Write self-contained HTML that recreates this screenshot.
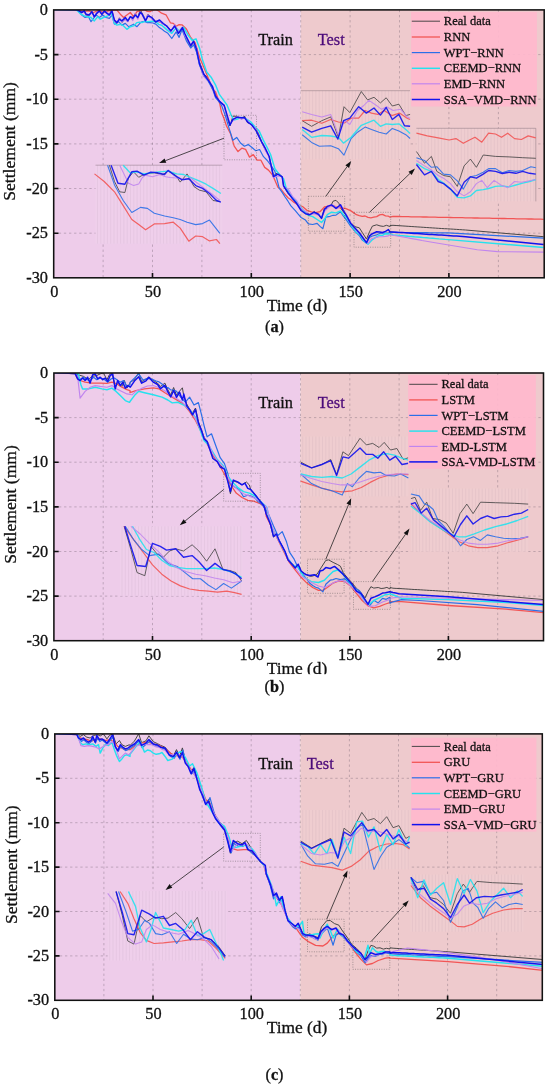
<!DOCTYPE html>
<html><head><meta charset="utf-8"><title>Settlement prediction</title>
<style>
html,body{margin:0;padding:0;background:#fff;overflow:hidden;}
svg{display:block;font-family:"Liberation Serif","Times New Roman",serif;}
text{stroke:#111;stroke-width:0.3px;}
</style></head><body>
<svg width="550" height="1087" viewBox="0 0 550 1087">
<rect width="550" height="1087" fill="#fff"/>
<g><rect x="53.7" y="9.9" width="247.0" height="267.9" fill="#eeccea"/>
<rect x="300.71580000000006" y="9.9" width="243.5" height="267.9" fill="#eecacd"/>
<path d="M103.1 9.9 V277.8 M152.5 9.9 V277.8 M201.9 9.9 V277.8 M251.3 9.9 V277.8 M300.7 9.9 V277.8 M350.1 9.9 V277.8 M399.5 9.9 V277.8 M448.9 9.9 V277.8 M498.4 9.9 V277.8 M53.7 233.2 H544.2 M53.7 188.5 H544.2 M53.7 143.9 H544.2 M53.7 99.2 H544.2 M53.7 54.6 H544.2" stroke="#6a5a6a" stroke-opacity="0.45" stroke-width="0.8" stroke-dasharray="2.3 2.8" fill="none"/>
<rect x="95.5" y="165.2" width="126.8" height="78.4" fill="#efcfeb"/>
<path d="M97.5 165.2 V243.6 M100.8 165.2 V243.6 M104.1 165.2 V243.6 M107.4 165.2 V243.6 M110.7 165.2 V243.6 M114.0 165.2 V243.6 M117.3 165.2 V243.6 M120.6 165.2 V243.6 M123.9 165.2 V243.6 M127.2 165.2 V243.6 M130.5 165.2 V243.6 M133.8 165.2 V243.6 M137.1 165.2 V243.6 M140.4 165.2 V243.6 M143.7 165.2 V243.6 M147.0 165.2 V243.6 M150.3 165.2 V243.6 M153.6 165.2 V243.6 M156.9 165.2 V243.6 M160.2 165.2 V243.6 M163.5 165.2 V243.6 M166.8 165.2 V243.6 M170.1 165.2 V243.6 M173.4 165.2 V243.6 M176.7 165.2 V243.6 M180.0 165.2 V243.6 M183.3 165.2 V243.6 M186.6 165.2 V243.6 M189.9 165.2 V243.6 M193.2 165.2 V243.6 M196.5 165.2 V243.6 M199.8 165.2 V243.6 M203.1 165.2 V243.6 M206.4 165.2 V243.6 M209.7 165.2 V243.6 M213.0 165.2 V243.6 M216.3 165.2 V243.6 M219.6 165.2 V243.6" stroke="#8f7890" stroke-opacity="0.13" stroke-width="0.7" fill="none"/>
<path d="M95.5 165.2 H222.3" stroke="#7a6a74" stroke-opacity="0.8" stroke-width="0.55" fill="none"/>
<rect x="300.7" y="90.7" width="109.3" height="68.7" fill="#efcdd0"/>
<path d="M302.7 90.7 V159.4 M306.0 90.7 V159.4 M309.3 90.7 V159.4 M312.6 90.7 V159.4 M315.9 90.7 V159.4 M319.2 90.7 V159.4 M322.5 90.7 V159.4 M325.8 90.7 V159.4 M329.1 90.7 V159.4 M332.4 90.7 V159.4 M335.7 90.7 V159.4 M339.0 90.7 V159.4 M342.3 90.7 V159.4 M345.6 90.7 V159.4 M348.9 90.7 V159.4 M352.2 90.7 V159.4 M355.5 90.7 V159.4 M358.8 90.7 V159.4 M362.1 90.7 V159.4 M365.4 90.7 V159.4 M368.7 90.7 V159.4 M372.0 90.7 V159.4 M375.3 90.7 V159.4 M378.6 90.7 V159.4 M381.9 90.7 V159.4 M385.2 90.7 V159.4 M388.5 90.7 V159.4 M391.8 90.7 V159.4 M395.1 90.7 V159.4 M398.4 90.7 V159.4 M401.7 90.7 V159.4 M405.0 90.7 V159.4 M408.3 90.7 V159.4" stroke="#8f7890" stroke-opacity="0.13" stroke-width="0.7" fill="none"/>
<path d="M300.7 90.7 H410.0" stroke="#7a6a74" stroke-opacity="0.8" stroke-width="0.55" fill="none"/>
<rect x="416.4" y="128.3" width="119.4" height="73.1" fill="#efcdd0"/>
<path d="M418.4 128.3 V201.4 M421.7 128.3 V201.4 M425.0 128.3 V201.4 M428.3 128.3 V201.4 M431.6 128.3 V201.4 M434.9 128.3 V201.4 M438.2 128.3 V201.4 M441.5 128.3 V201.4 M444.8 128.3 V201.4 M448.1 128.3 V201.4 M451.4 128.3 V201.4 M454.7 128.3 V201.4 M458.0 128.3 V201.4 M461.3 128.3 V201.4 M464.6 128.3 V201.4 M467.9 128.3 V201.4 M471.2 128.3 V201.4 M474.5 128.3 V201.4 M477.8 128.3 V201.4 M481.1 128.3 V201.4 M484.4 128.3 V201.4 M487.7 128.3 V201.4 M491.0 128.3 V201.4 M494.3 128.3 V201.4 M497.6 128.3 V201.4 M500.9 128.3 V201.4 M504.2 128.3 V201.4 M507.5 128.3 V201.4 M510.8 128.3 V201.4 M514.1 128.3 V201.4 M517.4 128.3 V201.4 M520.7 128.3 V201.4 M524.0 128.3 V201.4 M527.3 128.3 V201.4 M530.6 128.3 V201.4 M533.9 128.3 V201.4" stroke="#8f7890" stroke-opacity="0.13" stroke-width="0.7" fill="none"/>
<path d="M416.4 128.3 H535.8" stroke="#7a6a74" stroke-opacity="0.8" stroke-width="0.55" fill="none"/>
<path d="M535.8 128.3 V201.4" stroke="#7a6a74" stroke-opacity="0.8" stroke-width="0.55" fill="none"/>
<clipPath id="clipa"><rect x="53.7" y="9.9" width="490.5" height="267.9"/></clipPath>
<g clip-path="url(#clipa)" fill="none" stroke-linejoin="round">
<path d="M53.7 9.5 L75.1 9.7 L77.6 10.0 L81.8 12.4 L84.3 11.0 L86.0 15.6 L89.3 14.9 L91.8 11.7 L94.3 17.0 L96.8 12.4 L99.3 10.9 L101.9 14.6 L104.4 11.8 L106.9 12.1 L109.4 14.4 L111.9 9.5 L114.4 21.0 L116.9 23.2 L119.4 17.8 L121.9 22.4 L125.3 19.0 L127.8 21.4 L130.3 17.1 L132.8 17.3 L135.3 13.5 L137.8 17.6 L140.3 9.6 L142.0 13.1 L145.5 19.9 L148.0 14.0 L151.8 18.0 L155.6 21.2 L159.5 21.9 L163.3 24.2 L167.1 26.3 L170.9 30.4 L174.7 26.3 L178.5 33.6 L182.4 28.0 L184.9 35.6 L186.4 38.2 L190.7 47.3 L193.6 41.5 L196.5 47.5 L199.5 61.8 L203.8 73.9 L208.2 78.0 L212.5 88.1 L215.5 94.3 L219.8 102.9 L224.2 105.1 L227.1 117.7 L230.0 126.0 L232.9 116.2 L237.3 116.3 L241.6 119.1 L244.5 116.0 L247.5 122.7 L251.8 124.4 L256.2 128.8 L259.0 134.8 L261.8 142.7 L265.5 150.3 L269.1 156.6 L273.5 175.7 L277.8 172.6 L282.2 176.7 L283.6 186.1 L288.0 193.5 L292.4 198.0 L296.7 202.1 L301.1 209.1 L305.5 212.0 L309.8 215.3 L314.2 211.5 L318.5 214.7 L321.5 218.6 L324.4 208.7 L327.3 208.5 L331.6 204.2 L333.1 201.2 L336.0 200.3 L338.9 203.3 L340.4 207.8 L343.3 211.7 L346.2 215.4 L350.5 222.3 L354.9 226.7 L359.3 227.8 L362.2 232.3 L366.5 239.1 L369.5 231.8 L372.4 226.1 L376.7 224.8 L380.0 225.9 L383.3 226.4 L386.5 225.3 L389.8 226.5 L390.0 225.5 L393.0 225.3 L396.1 225.5 L399.1 225.7 L402.1 225.9 L405.1 226.1 L408.2 226.3 L411.2 226.5 L414.2 226.7 L417.2 226.9 L420.3 227.1 L423.3 227.3 L426.3 227.5 L429.3 227.7 L432.4 227.9 L435.4 228.1 L438.4 228.3 L441.4 228.5 L444.5 228.7 L447.5 228.8 L450.5 229.0 L453.5 229.2 L456.6 229.4 L459.6 229.6 L462.6 229.8 L465.6 230.0 L543.6 236.7" stroke="#404040" stroke-width="0.95"/>
<path d="M53.7 9.5 L75.1 9.7 L78.4 10.4 L83.5 11.7 L88.5 10.9 L93.5 12.5 L98.5 10.4 L103.5 12.5 L108.5 10.9 L113.6 10.0 L116.9 10.0 L120.3 14.2 L123.6 17.5 L126.9 15.0 L130.3 12.5 L133.6 16.7 L137.0 11.7 L139.5 10.9 L142.0 10.2 L144.7 9.7 L147.3 11.4 L150.0 11.6 L152.9 10.0 L155.8 9.7 L158.7 11.0 L161.6 13.2 L166.0 14.8 L170.4 22.8 L173.3 23.4 L176.2 26.2 L179.1 24.6 L182.0 24.8 L186.4 29.0 L190.7 37.5 L195.1 42.6 L199.5 57.3 L203.8 67.2 L208.2 78.0 L212.5 89.2 L215.5 91.7 L219.8 103.8 L221.5 112.4 L224.0 118.4 L226.5 126.0 L230.4 133.4 L234.2 146.1 L238.0 151.6 L241.8 148.2 L245.6 149.4 L249.5 157.1 L253.3 154.6 L257.1 160.1 L260.9 160.2 L264.7 167.4 L268.5 170.1 L272.4 174.8 L273.5 177.1 L277.8 187.1 L280.7 188.8 L283.6 192.7 L288.0 197.7 L290.9 199.7 L293.8 202.2 L298.2 204.9 L302.5 206.5 L306.9 210.3 L311.3 211.9 L315.6 212.7 L320.0 211.7 L324.4 207.0 L327.3 206.4 L330.2 206.3 L333.1 205.6 L336.0 206.9 L338.9 207.4 L341.8 208.3 L344.7 208.1 L347.6 209.3 L350.5 210.6 L353.5 212.6 L356.4 214.7 L359.3 215.6 L362.2 216.4 L365.1 216.0 L368.0 217.4 L370.9 217.8 L373.8 217.2 L376.7 216.6 L379.6 214.9 L382.5 214.4 L385.5 215.9 L388.4 216.2 L390.0 217.1 L393.0 216.4 L396.0 216.5 L399.0 216.5 L402.0 216.6 L405.1 216.6 L408.1 216.7 L411.1 216.8 L414.1 216.8 L417.1 216.9 L420.1 216.9 L423.1 217.0 L426.1 217.0 L429.2 217.1 L432.2 217.2 L435.2 217.2 L438.2 217.3 L441.2 217.3 L444.2 217.4 L447.2 217.4 L450.2 217.5 L453.2 217.6 L456.3 217.6 L459.3 217.7 L462.3 217.7 L465.3 217.8 L468.3 217.8 L471.3 217.9 L474.3 218.0 L477.3 218.0 L480.4 218.1 L483.4 218.1 L486.4 218.2 L489.4 218.2 L492.4 218.3 L495.4 218.4 L498.4 218.4 L501.4 218.5 L504.4 218.5 L507.5 218.6 L510.5 218.6 L513.5 218.7 L516.5 218.8 L519.5 218.8 L522.5 218.9 L525.5 218.9 L528.5 219.0 L531.6 219.0 L534.6 219.1 L537.6 219.2 L540.6 219.2 L543.6 219.3" stroke="#f25555" stroke-width="1.3"/>
<path d="M53.7 9.5 L75.1 9.7 L78.4 10.9 L81.8 15.0 L85.1 17.5 L88.5 16.7 L91.0 21.7 L93.5 18.4 L96.0 15.0 L99.3 17.5 L102.7 15.0 L106.0 17.5 L109.4 18.4 L111.9 15.0 L114.4 24.2 L118.6 21.7 L121.9 25.1 L125.3 23.4 L128.6 26.7 L133.6 24.2 L137.0 26.7 L140.3 22.8 L142.0 21.9 L144.7 21.4 L147.3 22.6 L150.0 22.6 L152.9 23.0 L155.8 24.1 L158.7 26.9 L161.6 28.9 L164.5 31.2 L167.5 32.9 L171.8 38.5 L176.2 31.9 L179.1 37.4 L182.0 29.5 L186.4 40.9 L190.7 48.0 L193.6 44.8 L196.5 51.9 L199.5 64.8 L203.8 76.2 L208.2 81.2 L212.5 88.9 L215.5 97.6 L219.8 102.7 L221.5 105.3 L225.3 115.5 L229.1 128.3 L232.9 140.3 L236.7 137.4 L240.5 143.0 L244.4 146.2 L248.2 144.6 L252.0 147.5 L255.8 150.8 L259.6 149.5 L263.5 156.7 L267.3 160.5 L271.1 165.7 L274.9 171.4 L279.3 188.4 L282.2 192.4 L285.1 197.0 L288.0 201.2 L290.9 205.9 L295.3 210.7 L298.2 214.2 L301.1 217.5 L305.5 220.1 L308.4 223.9 L312.7 224.5 L317.1 223.3 L320.0 226.4 L322.9 228.7 L325.8 217.1 L330.2 216.3 L333.1 215.3 L336.0 215.1 L340.4 211.7 L343.3 215.9 L346.2 219.6 L350.5 226.0 L354.9 231.1 L359.3 235.5 L362.2 239.9 L366.5 242.9 L369.5 237.4 L372.4 236.0 L376.7 234.8 L379.6 233.5 L382.5 232.8 L385.5 233.2 L388.4 233.2 L390.0 231.8 L393.1 232.4 L396.1 232.4 L399.2 232.5 L402.2 232.5 L405.3 232.5 L408.4 232.5 L411.4 232.6 L414.5 232.6 L417.6 232.6 L420.6 232.7 L423.7 232.7 L426.7 232.7 L429.8 232.8 L432.9 232.8 L435.9 232.8 L439.0 232.9 L442.1 232.9 L445.1 232.9 L448.2 232.9 L543.6 238.2" stroke="#2b6fe8" stroke-width="1.2"/>
<path d="M53.7 9.5 L75.1 9.7 L77.6 10.9 L80.9 14.2 L84.3 15.9 L87.6 16.7 L91.0 17.5 L94.3 20.9 L97.7 16.7 L100.2 19.2 L103.5 17.5 L107.7 15.9 L111.1 12.5 L114.4 23.4 L116.9 25.1 L120.3 24.2 L123.6 25.9 L126.9 29.3 L130.3 26.7 L133.6 25.9 L137.0 22.6 L139.5 22.1 L142.0 22.6 L144.7 21.4 L147.3 21.6 L150.0 21.4 L152.9 21.2 L155.8 21.7 L158.7 24.4 L161.6 25.3 L164.5 27.6 L167.5 30.4 L171.8 33.3 L176.2 27.6 L179.1 31.0 L183.5 27.2 L187.8 34.7 L192.2 40.5 L196.0 38.8 L199.5 47.9 L202.4 59.6 L206.7 72.0 L211.1 77.2 L215.5 84.8 L219.2 94.1 L223.3 99.9 L227.1 105.2 L230.9 114.6 L233.8 120.0 L237.3 119.0 L241.6 117.4 L246.0 118.8 L250.4 121.5 L254.7 126.5 L259.1 130.9 L263.3 140.1 L266.9 147.0 L270.5 154.3 L274.9 168.8 L279.3 174.5 L283.6 178.7 L286.0 187.4 L290.0 194.1 L292.4 197.3 L294.7 199.5 L299.1 205.0 L303.4 210.8 L305.9 213.5 L308.4 215.4 L312.7 216.6 L317.1 219.5 L321.5 222.4 L324.4 219.3 L327.3 214.7 L331.6 212.2 L336.0 212.9 L340.4 210.9 L344.1 215.2 L347.6 218.8 L352.0 226.5 L356.4 232.2 L360.7 235.8 L363.6 240.6 L368.0 244.2 L371.5 240.4 L375.3 237.6 L379.6 235.2 L382.5 235.4 L385.5 233.7 L388.4 234.0 L390.0 233.9 L393.1 235.0 L396.1 235.2 L399.2 235.5 L402.2 235.7 L405.3 236.0 L408.4 236.3 L411.4 236.5 L414.5 236.8 L417.6 237.0 L420.6 237.3 L423.7 237.6 L426.7 237.8 L429.8 238.1 L432.9 238.3 L435.9 238.6 L439.0 238.9 L442.1 239.1 L445.1 239.4 L448.2 239.6 L543.6 247.5" stroke="#25e2ee" stroke-width="1.45"/>
<path d="M53.7 9.5 L75.1 9.7 L77.6 10.0 L81.8 12.4 L84.3 10.1 L86.0 15.2 L89.3 14.0 L91.8 12.3 L94.3 16.7 L96.8 12.3 L99.3 11.4 L101.9 13.0 L104.4 11.1 L106.9 12.3 L109.4 14.1 L111.9 11.1 L114.4 21.7 L116.9 21.7 L119.4 18.7 L121.9 21.8 L125.3 19.7 L127.8 21.7 L130.3 16.8 L132.8 20.6 L135.3 13.9 L137.8 19.3 L140.3 12.3 L142.0 14.1 L145.5 19.8 L148.0 14.5 L151.8 19.1 L155.6 21.3 L159.5 21.6 L163.3 24.2 L167.1 26.1 L170.9 31.8 L174.7 24.9 L178.5 32.2 L182.4 27.0 L184.9 35.7 L186.4 37.9 L190.7 45.7 L193.6 42.0 L196.5 48.6 L199.5 63.2 L203.8 76.6 L208.2 80.2 L212.5 86.0 L215.5 96.0 L219.8 101.2 L224.2 106.6 L227.1 117.0 L230.0 123.3 L232.9 120.9 L237.3 116.7 L241.6 119.3 L244.5 118.0 L247.5 120.5 L251.8 125.5 L256.2 128.7 L259.0 136.7 L261.8 142.2 L265.5 150.8 L269.1 156.8 L273.5 177.6 L277.8 176.0 L282.2 176.5 L283.6 186.7 L288.0 188.9 L292.4 196.3 L296.7 200.7 L301.1 208.6 L305.5 211.2 L309.8 214.7 L314.2 213.7 L318.5 215.2 L321.5 217.5 L324.9 210.7 L328.7 207.3 L333.1 205.3 L337.5 208.5 L341.2 205.8 L344.1 210.7 L347.6 216.9 L352.0 224.9 L356.4 230.6 L360.7 234.8 L363.6 239.4 L368.0 243.3 L371.5 238.7 L375.3 237.7 L379.6 236.8 L382.5 236.7 L385.5 236.4 L388.4 235.9 L390.0 234.7 L392.9 235.2 L395.8 235.7 L398.7 236.3 L401.6 236.8 L404.5 237.3 L407.5 237.8 L410.4 238.4 L413.3 238.9 L416.2 239.4 L419.1 239.9 L422.0 240.5 L424.9 241.0 L427.8 241.5 L430.7 242.0 L433.6 242.5 L477.3 249.8 L497.6 251.6 L543.6 252.1" stroke="#c085ee" stroke-width="1.15"/>
<path d="M53.7 9.5 L75.1 9.7 L77.6 10.0 L81.8 12.5 L84.3 10.9 L86.0 14.2 L89.3 15.0 L91.8 11.7 L94.3 16.7 L96.8 13.4 L99.3 10.9 L101.9 14.2 L104.4 10.9 L106.9 13.4 L109.4 15.0 L111.9 10.9 L114.4 20.1 L116.9 22.6 L119.4 19.2 L121.9 20.9 L125.3 17.5 L127.8 20.9 L130.3 16.7 L132.8 18.4 L135.3 15.0 L137.8 17.5 L140.3 12.4 L142.0 13.9 L145.5 20.8 L148.0 16.0 L151.8 17.4 L155.6 22.0 L159.5 20.0 L163.3 23.5 L167.1 26.4 L170.9 30.9 L174.7 26.0 L178.5 33.3 L182.4 27.6 L184.9 33.7 L186.4 36.9 L190.7 45.5 L193.6 41.3 L196.5 49.3 L199.5 63.9 L203.8 74.3 L208.2 80.1 L212.5 86.7 L215.5 96.0 L219.8 101.6 L224.2 105.4 L227.1 115.1 L230.0 125.0 L232.9 119.4 L237.3 117.2 L241.6 117.8 L244.5 117.6 L247.5 121.8 L251.8 125.0 L256.2 130.9 L259.0 136.7 L261.8 142.1 L265.5 148.7 L269.1 156.2 L273.5 176.6 L277.8 174.1 L282.2 176.8 L283.6 185.9 L288.0 192.6 L292.4 198.5 L296.7 203.6 L301.1 210.5 L305.5 213.7 L309.8 214.7 L314.2 212.2 L318.5 214.2 L321.5 218.4 L324.4 209.6 L327.3 206.4 L331.6 204.9 L336.0 208.5 L340.4 204.7 L343.3 210.7 L346.2 215.2 L350.5 223.2 L354.9 228.0 L359.3 232.7 L362.2 236.8 L366.5 242.7 L369.5 235.9 L372.4 233.7 L376.7 231.7 L379.6 232.0 L382.5 232.5 L385.5 231.4 L388.4 229.6 L390.0 232.0 L393.0 232.0 L396.1 232.2 L399.1 232.4 L402.1 232.6 L405.1 232.8 L408.2 233.0 L411.2 233.2 L414.2 233.4 L417.2 233.6 L420.3 233.8 L423.3 234.0 L426.3 234.2 L429.3 234.4 L432.4 234.6 L435.4 234.7 L438.4 234.9 L441.4 235.1 L444.5 235.3 L447.5 235.5 L450.5 235.7 L453.5 235.9 L456.6 236.1 L459.6 236.3 L462.6 236.5 L465.6 236.7 L543.6 244.6" stroke="#1212ee" stroke-width="1.5"/>
</g>
<g fill="none" stroke-linejoin="round">
<path d="M109.4 165.2 L114.5 181.5 L119.7 191.8 L124.9 192.5 L128.4 178.0 L133.5 171.8 L138.7 177.3 L143.9 174.5 L149.1 173.5 L154.3 172.8 L162.9 174.5 L168.1 171.1 L175.0 174.5 L180.2 182.1 L187.1 173.9 L194.0 186.6 L199.2 190.1 L206.1 191.8 L213.0 200.5 L219.9 201.5" stroke="#404040" stroke-width="0.90" stroke-opacity="0.9"/>
<path d="M94.5 173.9 L104.2 181.5 L114.5 191.8 L123.2 205.6 L131.8 219.5 L138.7 224.6 L145.6 229.8 L154.3 223.9 L164.6 223.6 L173.3 222.2 L180.2 228.1 L188.8 241.2 L195.7 236.0 L202.6 236.7 L209.5 240.9 L216.5 239.5 L219.9 243.6" stroke="#f25555" stroke-width="1.20" stroke-opacity="0.9"/>
<path d="M107.6 165.2 L114.5 184.9 L123.2 200.5 L131.8 212.5 L140.5 207.4 L147.4 208.4 L154.3 213.2 L164.6 216.0 L173.3 217.7 L180.2 219.5 L187.1 222.2 L195.7 224.6 L202.6 223.6 L209.5 220.1 L219.9 233.3" stroke="#2b6fe8" stroke-width="1.10" stroke-opacity="0.9"/>
<path d="M123.2 165.2 L130.1 172.8 L137.0 171.8 L143.9 173.9 L150.8 172.8 L159.5 171.8 L168.1 171.1 L176.7 173.9 L183.6 174.5 L190.5 177.3 L199.2 180.8 L206.1 184.2 L213.0 188.4 L220.9 193.5" stroke="#25e2ee" stroke-width="1.33" stroke-opacity="0.9"/>
<path d="M119.8 165.5 L123.5 173.1 L128.5 183.3 L133.6 185.5 L138.7 184.0 L142.4 177.5 L145.3 175.3 L152.5 176.7 L159.8 174.5 L165.6 176.7 L170.0 177.5 L176.7 178.0 L183.6 179.7 L190.5 178.0 L197.5 183.2 L204.4 188.4 L211.3 193.5 L219.9 200.5" stroke="#c085ee" stroke-width="1.06" stroke-opacity="0.9"/>
<path d="M111.1 165.2 L118.0 183.2 L124.9 184.2 L131.8 171.8 L137.0 171.1 L143.9 175.2 L150.8 172.1 L157.7 172.8 L164.6 174.5 L168.1 170.4 L175.0 175.6 L181.9 179.7 L188.8 178.7 L195.7 185.6 L202.6 188.4 L209.5 193.5 L216.5 200.5 L220.9 202.2" stroke="#1212ee" stroke-width="1.38" stroke-opacity="0.9"/>
</g>
<g fill="none" stroke-linejoin="round">
<path d="M302.2 120.7 L311.6 126.3 L321.8 120.7 L330.7 116.9 L338.4 137.3 L344.0 106.7 L349.8 112.6 L361.3 91.5 L367.6 99.9 L374.0 97.3 L380.4 102.9 L386.2 97.8 L392.3 106.0 L398.9 104.2 L405.8 115.6 L410.1 114.4" stroke="#404040" stroke-width="0.90" stroke-opacity="0.9"/>
<path d="M302.2 120.7 L311.6 120.2 L321.8 123.3 L330.7 119.5 L338.4 122.0 L344.7 122.8 L351.1 118.2 L358.7 118.2 L365.1 110.5 L371.5 113.1 L377.8 114.4 L384.2 110.5 L391.8 115.6 L399.5 113.1 L407.1 118.2 L410.1 119.5" stroke="#f25555" stroke-width="1.20" stroke-opacity="0.9"/>
<path d="M302.2 134.7 L311.6 142.4 L319.3 146.2 L330.7 145.7 L338.4 148.7 L344.0 155.1 L351.1 138.5 L357.5 132.2 L365.1 127.1 L371.5 129.6 L379.1 132.2 L386.2 134.0 L392.3 128.4 L398.9 130.9 L405.8 134.7 L410.1 138.5" stroke="#2b6fe8" stroke-width="1.10" stroke-opacity="0.9"/>
<path d="M302.2 129.6 L311.6 137.3 L321.8 135.5 L330.7 136.0 L338.4 137.3 L343.5 143.1 L351.1 137.3 L361.3 125.3 L374.0 120.2 L380.4 126.3 L386.2 123.8 L392.3 124.5 L398.9 123.8 L405.8 129.6 L410.1 133.5" stroke="#25e2ee" stroke-width="1.33" stroke-opacity="0.9"/>
<path d="M302.2 111.8 L311.6 114.4 L321.8 116.9 L330.7 114.4 L338.4 134.7 L344.7 120.7 L349.8 124.5 L357.5 110.5 L363.8 105.5 L368.9 100.4 L376.5 105.5 L381.6 109.3 L386.7 106.7 L393.1 110.5 L400.7 109.3 L407.1 116.9 L410.1 118.2" stroke="#c085ee" stroke-width="1.06" stroke-opacity="0.9"/>
<path d="M302.2 127.1 L311.6 132.2 L321.8 128.4 L330.7 125.8 L337.9 139.1 L343.5 120.7 L349.8 118.2 L358.7 106.7 L366.4 113.1 L374.0 108.0 L380.4 115.1 L386.2 107.5 L392.3 119.5 L398.9 114.4 L404.5 125.8 L410.1 126.3" stroke="#1212ee" stroke-width="1.38" stroke-opacity="0.9"/>
</g>
<g fill="none" stroke-linejoin="round">
<path d="M416.4 151.5 L424.5 163.2 L431.4 156.4 L436.8 171.4 L443.6 175.5 L450.5 176.8 L457.3 186.4 L464.1 165.9 L470.4 159.1 L476.4 167.3 L483.2 155.0 L495.5 156.4 L509.1 156.9 L522.7 157.7 L535.8 158.3" stroke="#404040" stroke-width="0.90" stroke-opacity="0.9"/>
<path d="M416.4 133.2 L427.3 135.9 L438.2 137.8 L449.1 140.0 L455.9 138.6 L463.3 143.3 L469.5 140.0 L475.0 137.3 L481.8 142.2 L488.6 133.2 L495.5 134.0 L501.5 137.3 L507.7 133.2 L514.5 138.6 L521.4 139.5 L528.2 135.9 L535.8 137.8" stroke="#f25555" stroke-width="1.20" stroke-opacity="0.9"/>
<path d="M416.4 157.7 L424.5 160.5 L431.4 167.3 L436.8 166.7 L443.6 174.1 L450.5 174.9 L457.3 180.9 L463.3 189.1 L470.4 176.8 L476.4 175.5 L483.2 172.2 L488.6 168.6 L495.5 168.6 L502.3 172.7 L509.1 170.5 L515.9 171.4 L522.7 170.5 L530.9 166.7 L535.8 167.8" stroke="#2b6fe8" stroke-width="1.10" stroke-opacity="0.9"/>
<path d="M416.4 163.2 L424.5 168.6 L431.4 171.4 L438.2 179.5 L443.6 183.1 L450.5 189.1 L457.3 197.3 L464.1 197.8 L470.4 195.9 L476.4 190.5 L483.2 189.6 L488.6 188.5 L495.5 186.4 L502.3 185.8 L509.1 186.9 L515.9 185.0 L522.7 183.1 L529.5 181.5 L535.8 179.5" stroke="#25e2ee" stroke-width="1.33" stroke-opacity="0.9"/>
<path d="M416.4 160.5 L424.5 165.9 L431.4 170.0 L438.2 175.5 L443.6 178.2 L450.5 183.6 L457.3 191.8 L464.1 195.9 L470.4 191.8 L476.4 183.6 L481.8 180.4 L487.3 187.7 L494.1 180.4 L500.9 185.0 L507.7 187.7 L514.5 181.5 L521.4 182.3 L528.2 180.9 L535.8 179.5" stroke="#c085ee" stroke-width="1.06" stroke-opacity="0.9"/>
<path d="M416.4 164.5 L424.5 174.9 L431.4 171.4 L438.2 181.5 L443.6 183.6 L450.5 189.1 L457.3 195.9 L464.1 182.3 L470.4 176.8 L476.4 178.2 L483.2 174.1 L488.6 170.5 L495.5 171.4 L502.3 173.5 L509.1 172.2 L515.9 173.3 L522.7 171.4 L529.5 173.3 L535.8 174.1" stroke="#1212ee" stroke-width="1.38" stroke-opacity="0.9"/>
</g>
<rect x="224.0" y="115.3" width="32.5" height="44.5" fill="none" stroke="#4a4a4a" stroke-opacity="0.75" stroke-width="0.6" stroke-dasharray="1 1.4"/>
<rect x="308.4" y="196.3" width="36.3" height="34.9" fill="none" stroke="#4a4a4a" stroke-opacity="0.75" stroke-width="0.6" stroke-dasharray="1 1.4"/>
<rect x="354.0" y="212.3" width="36.7" height="34.9" fill="none" stroke="#4a4a4a" stroke-opacity="0.75" stroke-width="0.6" stroke-dasharray="1 1.4"/>
<path d="M224.0 138.2 L165.4 160.7" stroke="#222" stroke-width="0.8" fill="none"/>
<path d="M159.1 163.1 L164.6 158.5 L166.3 162.8 Z" fill="#111"/>
<path d="M325.8 196.3 L347.2 166.5" stroke="#222" stroke-width="0.8" fill="none"/>
<path d="M351.2 161.0 L349.1 167.9 L345.4 165.2 Z" fill="#111"/>
<path d="M369.5 212.3 L410.1 173.3" stroke="#222" stroke-width="0.8" fill="none"/>
<path d="M415.0 168.6 L411.7 175.0 L408.5 171.7 Z" fill="#111"/>
<rect x="411.1" y="11.9" width="125.8" height="94.6" fill="#ffb8cd" fill-opacity="0.92"/>
<path d="M411.8 21.2 H440.0" stroke="#404040" stroke-width="0.95" fill="none"/>
<text transform="translate(443.8 25.3) scale(0.95 1)" font-size="13.2" fill="#111">Real data</text>
<path d="M411.8 37.0 H440.0" stroke="#f25555" stroke-width="1.3" fill="none"/>
<text transform="translate(443.8 41.1) scale(0.95 1)" font-size="13.2" fill="#111">RNN</text>
<path d="M411.8 52.6 H440.0" stroke="#2b6fe8" stroke-width="1.2" fill="none"/>
<text transform="translate(443.8 56.7) scale(0.95 1)" font-size="13.2" fill="#111">WPT−RNN</text>
<path d="M411.8 68.3 H440.0" stroke="#25e2ee" stroke-width="1.45" fill="none"/>
<text transform="translate(443.8 72.4) scale(0.95 1)" font-size="13.2" fill="#111">CEEMD−RNN</text>
<path d="M411.8 83.8 H440.0" stroke="#c085ee" stroke-width="1.15" fill="none"/>
<text transform="translate(443.8 87.9) scale(0.95 1)" font-size="13.2" fill="#111">EMD−RNN</text>
<path d="M411.8 99.5 H440.0" stroke="#1212ee" stroke-width="1.5" fill="none"/>
<text transform="translate(443.8 103.6) scale(0.95 1)" font-size="13.2" fill="#111">SSA−VMD−RNN</text>
<text x="258.2" y="45.3" font-size="16.3" fill="#111">Train</text>
<text x="317.8" y="45.3" font-size="16.3" fill="#4b0a7a" style="stroke:#4b0a7a">Test</text>
<rect x="53.7" y="9.9" width="490.5" height="267.9" fill="none" stroke="#111" stroke-width="1.55"/>
<path d="M152.5 277.8 v-4.8 M251.3 277.8 v-4.8 M350.1 277.8 v-4.8 M448.9 277.8 v-4.8 M53.7 233.2 h4.8 M53.7 188.5 h4.8 M53.7 143.9 h4.8 M53.7 99.2 h4.8 M53.7 54.6 h4.8" stroke="#111" stroke-width="1.6" fill="none"/>
<text x="48.0" y="15.0" font-size="16.3" text-anchor="end" fill="#111">0</text>
<text x="48.0" y="59.7" font-size="16.3" text-anchor="end" fill="#111">-5</text>
<text x="48.0" y="104.3" font-size="16.3" text-anchor="end" fill="#111">-10</text>
<text x="48.0" y="149.0" font-size="16.3" text-anchor="end" fill="#111">-15</text>
<text x="48.0" y="193.6" font-size="16.3" text-anchor="end" fill="#111">-20</text>
<text x="48.0" y="238.3" font-size="16.3" text-anchor="end" fill="#111">-25</text>
<text x="48.0" y="282.9" font-size="16.3" text-anchor="end" fill="#111">-30</text>
<text x="54.2" y="296.6" font-size="16.3" text-anchor="middle" fill="#111">0</text>
<text x="153.0" y="296.6" font-size="16.3" text-anchor="middle" fill="#111">50</text>
<text x="251.8" y="296.6" font-size="16.3" text-anchor="middle" fill="#111">100</text>
<text x="350.6" y="296.6" font-size="16.3" text-anchor="middle" fill="#111">150</text>
<text x="449.4" y="296.6" font-size="16.3" text-anchor="middle" fill="#111">200</text>
<text x="297" y="310.6" font-size="17.4" text-anchor="middle" fill="#111">Time (d)</text>
<text transform="translate(15.4 141.4) rotate(-90)" font-size="17.6" text-anchor="middle" fill="#111">Settlement (mm)</text></g>
<text x="274.5" y="332.4" font-size="16.2" text-anchor="middle" fill="#111">(<tspan font-weight="bold">a</tspan>)</text>
<g><rect x="53.9" y="373.0" width="246.6" height="267.7" fill="#eeccea"/>
<rect x="300.46256000000005" y="373.0" width="243.0" height="267.7" fill="#eecacd"/>
<path d="M103.2 373.0 V640.7 M152.5 373.0 V640.7 M201.8 373.0 V640.7 M251.2 373.0 V640.7 M300.5 373.0 V640.7 M349.8 373.0 V640.7 M399.1 373.0 V640.7 M448.4 373.0 V640.7 M497.7 373.0 V640.7 M53.9 596.1 H543.5 M53.9 551.5 H543.5 M53.9 506.9 H543.5 M53.9 462.2 H543.5 M53.9 417.6 H543.5" stroke="#6a5a6a" stroke-opacity="0.45" stroke-width="0.8" stroke-dasharray="2.3 2.8" fill="none"/>
<rect x="120.0" y="526.3" width="122.2" height="69.5" fill="#efcfeb"/>
<path d="M122.0 526.3 V595.8 M125.3 526.3 V595.8 M128.6 526.3 V595.8 M131.9 526.3 V595.8 M135.2 526.3 V595.8 M138.5 526.3 V595.8 M141.8 526.3 V595.8 M145.1 526.3 V595.8 M148.4 526.3 V595.8 M151.7 526.3 V595.8 M155.0 526.3 V595.8 M158.3 526.3 V595.8 M161.6 526.3 V595.8 M164.9 526.3 V595.8 M168.2 526.3 V595.8 M171.5 526.3 V595.8 M174.8 526.3 V595.8 M178.1 526.3 V595.8 M181.4 526.3 V595.8 M184.7 526.3 V595.8 M188.0 526.3 V595.8 M191.3 526.3 V595.8 M194.6 526.3 V595.8 M197.9 526.3 V595.8 M201.2 526.3 V595.8 M204.5 526.3 V595.8 M207.8 526.3 V595.8 M211.1 526.3 V595.8 M214.4 526.3 V595.8 M217.7 526.3 V595.8 M221.0 526.3 V595.8 M224.3 526.3 V595.8 M227.6 526.3 V595.8 M230.9 526.3 V595.8 M234.2 526.3 V595.8 M237.5 526.3 V595.8 M240.8 526.3 V595.8" stroke="#8f7890" stroke-opacity="0.13" stroke-width="0.7" fill="none"/>
<rect x="300.7" y="436.5" width="107.6" height="59.8" fill="#efcdd0"/>
<path d="M302.7 436.5 V496.3 M306.0 436.5 V496.3 M309.3 436.5 V496.3 M312.6 436.5 V496.3 M315.9 436.5 V496.3 M319.2 436.5 V496.3 M322.5 436.5 V496.3 M325.8 436.5 V496.3 M329.1 436.5 V496.3 M332.4 436.5 V496.3 M335.7 436.5 V496.3 M339.0 436.5 V496.3 M342.3 436.5 V496.3 M345.6 436.5 V496.3 M348.9 436.5 V496.3 M352.2 436.5 V496.3 M355.5 436.5 V496.3 M358.8 436.5 V496.3 M362.1 436.5 V496.3 M365.4 436.5 V496.3 M368.7 436.5 V496.3 M372.0 436.5 V496.3 M375.3 436.5 V496.3 M378.6 436.5 V496.3 M381.9 436.5 V496.3 M385.2 436.5 V496.3 M388.5 436.5 V496.3 M391.8 436.5 V496.3 M395.1 436.5 V496.3 M398.4 436.5 V496.3 M401.7 436.5 V496.3 M405.0 436.5 V496.3" stroke="#8f7890" stroke-opacity="0.13" stroke-width="0.7" fill="none"/>
<rect x="410.9" y="488.5" width="117.3" height="63.3" fill="#efcdd0"/>
<path d="M412.9 488.5 V551.8 M416.2 488.5 V551.8 M419.5 488.5 V551.8 M422.8 488.5 V551.8 M426.1 488.5 V551.8 M429.4 488.5 V551.8 M432.7 488.5 V551.8 M436.0 488.5 V551.8 M439.3 488.5 V551.8 M442.6 488.5 V551.8 M445.9 488.5 V551.8 M449.2 488.5 V551.8 M452.5 488.5 V551.8 M455.8 488.5 V551.8 M459.1 488.5 V551.8 M462.4 488.5 V551.8 M465.7 488.5 V551.8 M469.0 488.5 V551.8 M472.3 488.5 V551.8 M475.6 488.5 V551.8 M478.9 488.5 V551.8 M482.2 488.5 V551.8 M485.5 488.5 V551.8 M488.8 488.5 V551.8 M492.1 488.5 V551.8 M495.4 488.5 V551.8 M498.7 488.5 V551.8 M502.0 488.5 V551.8 M505.3 488.5 V551.8 M508.6 488.5 V551.8 M511.9 488.5 V551.8 M515.2 488.5 V551.8 M518.5 488.5 V551.8 M521.8 488.5 V551.8 M525.1 488.5 V551.8" stroke="#8f7890" stroke-opacity="0.13" stroke-width="0.7" fill="none"/>
<clipPath id="clipb"><rect x="53.9" y="373.0" width="489.6" height="267.7"/></clipPath>
<g clip-path="url(#clipb)" fill="none" stroke-linejoin="round">
<path d="M53.7 372.5 L75.1 373.9 L83.5 376.4 L88.5 379.7 L91.8 376.4 L96.8 375.5 L100.2 373.9 L103.5 373.0 L106.9 379.7 L109.4 374.7 L111.9 373.0 L115.2 386.4 L118.6 383.1 L121.9 386.4 L124.4 380.5 L126.9 388.1 L129.5 383.9 L130.0 382.5 L134.4 379.6 L138.7 372.4 L141.6 381.7 L146.0 379.1 L148.9 377.1 L153.3 380.4 L157.6 383.2 L160.5 386.5 L164.9 383.1 L167.8 389.7 L170.7 395.0 L173.6 387.5 L176.5 395.2 L179.5 391.2 L182.4 387.8 L183.8 396.3 L186.7 404.0 L189.6 409.1 L192.5 412.8 L195.5 408.0 L198.4 421.7 L201.3 429.4 L204.2 437.8 L207.1 441.0 L210.0 447.3 L212.9 456.1 L217.3 460.4 L220.2 465.4 L224.5 469.0 L227.5 478.3 L230.4 493.7 L233.3 480.8 L237.6 482.4 L242.0 484.7 L246.4 482.0 L249.3 484.9 L250.7 489.5 L255.1 494.6 L259.5 499.9 L263.8 505.2 L266.2 513.4 L270.5 525.2 L273.5 537.1 L276.4 534.5 L279.3 540.8 L282.2 546.2 L285.1 552.2 L288.0 560.5 L292.4 563.5 L295.3 567.5 L298.2 564.9 L301.1 571.6 L305.5 574.1 L308.4 575.7 L311.3 576.4 L314.2 575.5 L317.1 574.1 L321.5 567.1 L325.8 560.4 L328.7 559.9 L333.1 562.4 L337.5 564.5 L340.4 566.2 L343.3 572.8 L347.6 578.0 L352.0 582.8 L356.4 588.3 L360.7 592.3 L365.1 597.9 L368.0 591.6 L370.9 586.7 L373.8 588.1 L378.2 587.5 L381.1 588.5 L384.0 588.2 L386.9 587.4 L389.8 588.9 L390.0 587.5 L393.0 588.2 L396.1 588.4 L399.1 588.5 L402.1 588.7 L405.2 588.9 L408.2 589.1 L411.2 589.3 L414.2 589.5 L417.3 589.6 L420.3 589.8 L423.3 590.0 L426.4 590.2 L429.4 590.4 L432.4 590.5 L435.5 590.7 L438.5 590.9 L441.5 591.1 L444.5 591.3 L447.6 591.5 L450.6 591.6 L453.6 591.8 L456.7 592.0 L459.7 592.2 L462.7 592.4 L543.6 599.6" stroke="#404040" stroke-width="0.95"/>
<path d="M53.7 372.5 L75.1 373.4 L76.8 377.2 L80.1 380.5 L85.1 382.2 L91.8 383.1 L100.2 383.1 L106.9 383.4 L111.9 382.2 L116.9 383.9 L121.9 387.2 L126.9 389.7 L130.0 390.7 L130.0 392.7 L135.8 390.7 L144.5 388.9 L153.3 387.8 L159.1 388.9 L164.9 392.7 L172.2 397.1 L178.0 400.6 L183.8 404.4 L189.6 411.6 L195.5 420.4 L201.3 432.0 L207.1 443.6 L212.9 455.3 L218.7 464.0 L224.5 474.2 L230.4 484.4 L236.2 493.1 L242.0 497.5 L247.8 500.4 L253.6 501.2 L259.5 503.3 L265.3 507.1 L266.2 516.2 L272.0 527.8 L277.8 539.5 L283.6 551.1 L289.5 562.7 L295.3 570.0 L301.1 577.3 L306.9 583.1 L312.7 587.5 L318.5 590.4 L322.9 590.4 L327.3 587.5 L333.1 583.1 L338.9 580.8 L344.7 581.6 L350.5 586.0 L356.4 593.3 L362.2 600.5 L368.0 605.8 L373.8 607.8 L379.6 606.4 L385.5 604.0 L389.8 602.6 L390.0 601.7 L401.6 601.7 L448.2 605.5 L506.4 609.2 L543.6 612.7" stroke="#f25555" stroke-width="1.3"/>
<path d="M53.7 372.5 L75.1 373.4 L76.8 374.7 L79.3 379.7 L83.5 377.2 L86.8 379.7 L90.1 380.5 L93.5 377.2 L96.8 379.7 L100.2 378.0 L103.5 378.9 L107.7 382.2 L111.1 378.9 L114.4 378.0 L116.9 379.7 L120.3 382.2 L123.6 380.5 L126.9 386.4 L130.0 384.7 L130.0 382.5 L134.4 378.2 L138.7 373.8 L143.1 380.1 L147.5 378.4 L150.4 379.0 L153.3 379.7 L156.2 381.0 L159.1 381.9 L162.0 383.9 L164.9 387.5 L167.8 387.5 L170.7 389.9 L173.6 390.0 L176.5 391.3 L180.9 397.3 L185.3 402.1 L189.6 397.1 L194.0 405.0 L198.4 402.6 L201.3 413.9 L204.2 426.1 L207.1 436.8 L211.5 433.8 L215.8 445.7 L220.2 457.7 L224.5 463.6 L227.5 472.7 L230.4 483.6 L234.7 486.9 L239.1 489.4 L243.5 496.7 L247.8 495.2 L252.2 496.5 L255.1 498.1 L258.0 501.4 L260.9 503.4 L263.8 506.9 L266.5 510.5 L269.1 515.5 L273.5 525.9 L277.8 535.6 L282.2 531.6 L286.5 541.8 L289.5 552.2 L293.8 558.6 L298.2 568.0 L302.5 574.0 L306.9 579.4 L309.8 583.3 L312.7 585.5 L315.6 587.2 L318.5 588.1 L322.9 591.9 L325.8 584.3 L330.2 580.2 L333.1 579.6 L336.0 578.5 L340.4 579.6 L344.7 578.8 L349.1 582.8 L352.0 585.0 L354.9 588.3 L359.3 590.5 L362.2 594.6 L365.1 601.4 L369.5 605.8 L373.8 600.3 L378.2 602.9 L382.5 598.4 L386.2 599.3 L389.8 597.3 L390.0 603.2 L392.9 601.8 L395.8 601.1 L398.7 600.4 L401.6 599.6 L419.1 600.5 L477.3 604.6 L543.6 611.3" stroke="#2b6fe8" stroke-width="1.2"/>
<path d="M53.7 372.5 L75.1 373.0 L78.4 373.9 L80.9 384.7 L82.6 388.9 L88.5 388.9 L95.2 387.2 L101.9 388.9 L106.9 389.7 L111.9 388.1 L116.1 391.4 L120.3 395.6 L125.3 400.6 L129.5 402.3 L130.0 401.5 L134.4 395.6 L138.7 391.3 L144.5 392.7 L153.3 394.8 L162.0 397.1 L167.8 400.0 L172.2 402.9 L178.0 402.3 L185.3 405.8 L191.1 411.6 L195.5 417.5 L199.8 429.1 L204.2 440.7 L208.5 445.1 L212.9 452.4 L217.3 459.6 L223.1 465.5 L227.5 475.6 L231.8 481.5 L237.6 487.3 L243.5 491.6 L249.3 493.1 L255.1 496.0 L260.9 501.8 L266.7 507.1 L271.4 526.4 L276.4 536.0 L280.7 543.8 L285.1 552.5 L288.9 559.8 L292.9 565.1 L298.2 567.1 L304.0 577.3 L311.3 581.6 L318.5 582.5 L324.4 580.2 L328.7 575.8 L333.1 571.5 L337.5 570.0 L341.8 572.9 L347.6 580.2 L353.5 587.5 L359.3 593.3 L365.1 602.0 L369.5 604.0 L373.8 600.5 L379.6 597.6 L385.5 594.7 L389.8 594.1 L390.0 593.8 L401.6 598.2 L448.2 599.6 L506.4 602.5 L543.6 605.5" stroke="#25e2ee" stroke-width="1.45"/>
<path d="M53.7 372.5 L75.1 373.9 L77.6 376.4 L80.1 398.1 L85.1 391.4 L90.1 387.2 L95.2 385.6 L100.2 386.4 L106.9 387.2 L111.9 385.6 L116.9 388.9 L121.9 391.4 L126.9 393.9 L132.0 394.8 L135.8 391.3 L141.6 388.4 L147.5 386.0 L153.3 385.5 L159.1 387.8 L164.9 390.7 L170.7 395.6 L176.5 398.5 L182.4 402.3 L188.2 408.7 L194.0 416.0 L199.8 427.6 L204.2 437.8 L208.5 444.2 L212.9 453.8 L217.3 460.5 L223.1 466.9 L227.5 476.2 L231.8 484.4 L237.6 489.6 L243.5 493.7 L249.3 496.0 L255.1 498.3 L260.9 502.4 L266.7 507.1 L272.0 527.2 L277.8 538.9 L283.6 549.6 L289.5 561.3 L295.3 568.0 L301.1 575.8 L309.8 581.6 L318.5 586.0 L324.4 587.5 L330.2 584.5 L336.0 581.6 L341.8 580.2 L347.6 583.1 L353.5 588.9 L359.3 594.7 L365.1 602.0 L369.5 606.4 L375.3 605.8 L382.5 602.0 L389.8 599.4 L390.0 598.2 L401.6 596.7 L448.2 598.2 L506.4 599.6 L543.6 600.5" stroke="#c085ee" stroke-width="1.15"/>
<path d="M53.7 372.5 L75.1 373.4 L77.6 378.9 L80.1 380.5 L82.6 378.0 L85.1 380.5 L87.6 377.2 L90.1 383.1 L92.7 374.7 L95.2 373.9 L97.7 378.9 L100.2 377.2 L102.7 379.7 L105.2 378.0 L107.7 381.4 L110.2 375.5 L112.7 373.9 L115.2 388.9 L117.7 380.5 L120.3 385.6 L122.8 382.2 L125.3 388.1 L127.8 385.6 L130.3 387.2 L134.4 381.1 L138.7 376.7 L141.6 383.2 L146.0 380.8 L148.9 377.3 L153.3 382.2 L157.6 384.5 L160.5 388.7 L164.9 385.4 L167.8 391.7 L170.7 397.0 L173.6 390.5 L176.5 397.3 L179.5 392.1 L182.4 400.1 L183.8 394.1 L186.7 405.9 L189.6 409.7 L192.5 414.9 L195.5 409.6 L198.4 422.9 L201.3 430.1 L204.2 438.9 L207.1 441.6 L210.0 449.9 L212.9 458.5 L217.3 461.7 L220.2 467.0 L224.5 469.1 L227.5 480.3 L230.4 491.5 L233.3 480.1 L237.6 481.9 L242.0 484.9 L244.9 483.2 L247.8 488.4 L250.7 489.5 L255.1 494.7 L259.5 500.4 L263.8 505.4 L266.2 514.0 L270.5 524.3 L273.5 536.4 L276.4 534.0 L279.3 540.8 L282.2 546.1 L285.1 551.7 L288.0 559.7 L292.4 564.8 L295.3 567.9 L298.2 564.2 L301.1 571.0 L305.5 574.5 L309.8 575.5 L314.2 574.7 L318.0 577.0 L320.0 570.9 L322.9 570.2 L325.8 567.6 L330.2 568.5 L334.5 566.4 L338.9 570.1 L343.3 574.4 L347.6 579.3 L352.0 584.3 L356.4 591.0 L360.7 593.3 L365.1 599.6 L368.0 604.3 L370.9 598.3 L375.3 596.6 L379.6 594.7 L382.5 593.1 L385.5 592.8 L389.8 591.8 L390.0 591.7 L392.9 592.5 L395.8 593.1 L398.7 593.8 L448.2 596.7 L543.6 604.6" stroke="#1212ee" stroke-width="1.5"/>
</g>
<g fill="none" stroke-linejoin="round">
<path d="M124.1 526.3 L130.9 549.5 L137.1 572.6 L144.8 575.7 L151.0 546.4 L157.2 554.1 L163.4 557.2 L169.5 551.0 L175.7 548.8 L183.5 551.0 L192.1 544.8 L198.9 551.0 L206.6 561.2 L215.0 548.8 L223.0 569.5 L229.8 570.5 L236.0 572.6 L241.6 581.0" stroke="#404040" stroke-width="0.90" stroke-opacity="0.9"/>
<path d="M124.1 526.3 L134.0 540.2 L143.3 552.5 L152.5 564.9 L161.8 574.2 L171.1 581.0 L180.4 585.9 L189.6 589.0 L198.9 590.3 L208.2 591.2 L217.5 592.1 L226.7 591.2 L234.5 592.7 L241.6 594.3" stroke="#f25555" stroke-width="1.20" stroke-opacity="0.9"/>
<path d="M125.3 526.3 L134.0 540.2 L141.7 549.5 L149.5 555.6 L158.7 554.1 L168.0 563.4 L177.3 566.5 L185.0 572.6 L192.7 578.8 L200.5 578.8 L208.2 585.0 L215.9 589.6 L223.6 583.5 L231.4 588.1 L241.6 581.0" stroke="#2b6fe8" stroke-width="1.10" stroke-opacity="0.9"/>
<path d="M132.5 526.3 L140.2 540.2 L146.4 549.5 L154.1 552.5 L161.8 560.3 L169.5 565.5 L177.3 567.4 L186.5 568.6 L195.8 568.6 L205.1 568.6 L214.4 568.0 L223.6 569.5 L232.9 572.6 L241.6 577.3" stroke="#25e2ee" stroke-width="1.33" stroke-opacity="0.9"/>
<path d="M130.9 526.3 L140.2 534.0 L149.5 543.3 L158.7 551.9 L168.0 561.8 L177.3 568.0 L186.5 571.7 L195.8 574.2 L205.1 575.7 L214.4 577.9 L223.6 579.7 L232.9 582.8 L241.6 581.0" stroke="#c085ee" stroke-width="1.06" stroke-opacity="0.9"/>
<path d="M124.7 526.3 L130.9 546.4 L137.1 565.5 L145.7 566.5 L152.5 543.3 L160.3 546.4 L166.5 550.1 L175.7 548.8 L183.5 557.2 L192.1 555.6 L198.9 561.8 L206.6 570.5 L215.0 563.4 L223.0 569.5 L229.8 571.1 L236.0 574.2 L241.6 578.8" stroke="#1212ee" stroke-width="1.38" stroke-opacity="0.9"/>
</g>
<g fill="none" stroke-linejoin="round">
<path d="M300.7 462.0 L311.6 467.9 L321.8 464.5 L330.7 459.5 L336.6 474.7 L342.9 451.8 L348.5 455.6 L360.0 438.3 L366.4 444.9 L372.7 443.4 L379.1 447.5 L384.2 442.4 L390.5 450.0 L396.9 448.5 L403.3 459.5 L408.4 457.7" stroke="#404040" stroke-width="0.90" stroke-opacity="0.9"/>
<path d="M300.7 481.1 L311.6 484.9 L321.8 488.2 L332.0 490.8 L342.2 491.8 L352.4 490.8 L361.3 487.5 L370.2 482.4 L379.1 478.0 L388.0 475.5 L396.9 474.0 L408.4 474.7" stroke="#f25555" stroke-width="1.20" stroke-opacity="0.9"/>
<path d="M300.7 474.0 L311.6 483.6 L321.8 488.2 L332.0 490.8 L342.2 495.1 L347.3 483.6 L352.4 486.7 L358.7 478.5 L366.4 471.4 L374.0 472.9 L380.4 472.2 L386.2 475.5 L394.4 476.0 L400.7 474.0 L408.4 478.0" stroke="#2b6fe8" stroke-width="1.10" stroke-opacity="0.9"/>
<path d="M300.7 474.0 L311.6 476.5 L321.8 477.3 L332.0 476.5 L342.2 478.0 L351.1 474.0 L360.0 467.1 L368.9 460.2 L377.8 455.6 L386.7 453.6 L394.4 455.1 L402.0 458.2 L408.4 460.2" stroke="#25e2ee" stroke-width="1.33" stroke-opacity="0.9"/>
<path d="M300.7 474.7 L311.6 478.5 L321.8 481.6 L332.0 483.6 L340.9 484.9 L349.8 484.9 L358.7 482.4 L368.9 479.1 L377.8 476.5 L386.7 474.7 L396.9 474.0 L408.4 474.0" stroke="#c085ee" stroke-width="1.06" stroke-opacity="0.9"/>
<path d="M300.7 463.3 L311.6 467.9 L321.8 464.5 L330.7 460.7 L336.6 475.5 L342.9 456.9 L348.5 458.2 L360.0 448.0 L366.4 454.4 L372.7 454.4 L377.8 458.2 L383.7 451.8 L389.8 460.2 L395.6 456.4 L402.0 464.5 L408.4 463.3" stroke="#1212ee" stroke-width="1.38" stroke-opacity="0.9"/>
</g>
<g fill="none" stroke-linejoin="round">
<path d="M410.9 498.6 L415.0 497.3 L420.5 510.4 L426.7 502.2 L432.7 518.5 L439.5 519.6 L446.4 523.2 L453.2 533.3 L460.0 513.6 L466.8 504.1 L473.1 513.6 L480.5 502.2 L495.5 502.7 L514.5 503.3 L528.2 504.1" stroke="#404040" stroke-width="0.90" stroke-opacity="0.9"/>
<path d="M410.9 504.1 L420.5 513.1 L430.0 521.3 L440.9 528.6 L450.5 535.5 L458.6 541.5 L468.2 545.8 L477.7 547.7 L487.3 547.7 L498.2 545.8 L509.1 542.3 L520.0 539.5 L528.2 536.8" stroke="#f25555" stroke-width="1.20" stroke-opacity="0.9"/>
<path d="M410.9 494.0 L419.1 495.9 L424.5 504.1 L428.6 505.5 L433.3 509.5 L438.2 520.5 L443.6 525.9 L449.1 532.7 L454.5 536.8 L460.5 545.8 L466.8 539.5 L473.6 536.8 L480.5 540.4 L487.3 534.9 L495.5 536.8 L503.6 538.2 L511.8 538.7 L520.0 538.2 L528.2 536.8" stroke="#2b6fe8" stroke-width="1.10" stroke-opacity="0.9"/>
<path d="M410.9 506.0 L420.5 513.6 L430.0 521.8 L440.9 528.6 L450.5 534.1 L458.6 536.8 L465.5 536.8 L473.6 534.1 L484.5 530.0 L495.5 526.7 L506.4 524.0 L517.3 520.5 L528.2 516.4" stroke="#25e2ee" stroke-width="1.33" stroke-opacity="0.9"/>
<path d="M410.9 502.7 L420.5 512.3 L430.0 520.5 L440.9 527.3 L450.5 534.1 L458.6 539.5 L468.2 543.1 L477.7 544.2 L487.3 544.2 L498.2 543.1 L509.1 540.4 L520.0 538.7 L528.2 536.8" stroke="#c085ee" stroke-width="1.06" stroke-opacity="0.9"/>
<path d="M410.9 504.1 L415.0 502.7 L421.3 513.1 L426.7 508.2 L433.3 519.6 L440.9 525.9 L447.7 531.4 L454.0 536.8 L460.5 524.5 L466.8 515.8 L473.1 524.0 L480.5 518.5 L487.3 515.8 L494.1 518.5 L500.9 516.9 L507.7 516.4 L514.5 514.2 L521.4 513.1 L528.2 509.5" stroke="#1212ee" stroke-width="1.38" stroke-opacity="0.9"/>
</g>
<rect x="223.7" y="473.3" width="36.6" height="27.9" fill="none" stroke="#4a4a4a" stroke-opacity="0.75" stroke-width="0.6" stroke-dasharray="1 1.4"/>
<rect x="307.5" y="559.2" width="36.6" height="34.1" fill="none" stroke="#4a4a4a" stroke-opacity="0.75" stroke-width="0.6" stroke-dasharray="1 1.4"/>
<rect x="353.5" y="581.6" width="36.9" height="27.7" fill="none" stroke="#4a4a4a" stroke-opacity="0.75" stroke-width="0.6" stroke-dasharray="1 1.4"/>
<path d="M223.7 489.5 L185.1 521.0" stroke="#222" stroke-width="0.8" fill="none"/>
<path d="M179.8 525.3 L183.6 519.2 L186.5 522.8 Z" fill="#111"/>
<path d="M325.8 559.2 L348.6 504.5" stroke="#222" stroke-width="0.8" fill="none"/>
<path d="M351.2 498.2 L350.7 505.4 L346.5 503.6 Z" fill="#111"/>
<path d="M372.4 581.6 L405.6 534.2" stroke="#222" stroke-width="0.8" fill="none"/>
<path d="M409.5 528.6 L407.5 535.5 L403.7 532.9 Z" fill="#111"/>
<rect x="408.1" y="375.1" width="127.7" height="93.7" fill="#ffb8cd" fill-opacity="0.92"/>
<path d="M409.2 384.3 H437.6" stroke="#404040" stroke-width="0.95" fill="none"/>
<text transform="translate(441.5 388.4) scale(0.95 1)" font-size="13.2" fill="#111">Real data</text>
<path d="M409.2 399.9 H437.6" stroke="#f25555" stroke-width="1.3" fill="none"/>
<text transform="translate(441.5 404.0) scale(0.95 1)" font-size="13.2" fill="#111">LSTM</text>
<path d="M409.2 415.4 H437.6" stroke="#2b6fe8" stroke-width="1.2" fill="none"/>
<text transform="translate(441.5 419.5) scale(0.95 1)" font-size="13.2" fill="#111">WPT−LSTM</text>
<path d="M409.2 431.1 H437.6" stroke="#25e2ee" stroke-width="1.45" fill="none"/>
<text transform="translate(441.5 435.2) scale(0.95 1)" font-size="13.2" fill="#111">CEEMD−LSTM</text>
<path d="M409.2 446.4 H437.6" stroke="#c085ee" stroke-width="1.15" fill="none"/>
<text transform="translate(441.5 450.5) scale(0.95 1)" font-size="13.2" fill="#111">EMD-LSTM</text>
<path d="M409.2 461.9 H437.6" stroke="#1212ee" stroke-width="1.5" fill="none"/>
<text transform="translate(441.5 466.0) scale(0.95 1)" font-size="13.2" fill="#111">SSA-VMD-LSTM</text>
<text x="258.2" y="408.4" font-size="16.3" fill="#111">Train</text>
<text x="317.8" y="408.4" font-size="16.3" fill="#4b0a7a" style="stroke:#4b0a7a">Test</text>
<rect x="53.9" y="373.0" width="489.6" height="267.7" fill="none" stroke="#111" stroke-width="1.55"/>
<path d="M152.5 640.7 v-4.8 M251.2 640.7 v-4.8 M349.8 640.7 v-4.8 M448.4 640.7 v-4.8 M53.9 596.1 h4.8 M53.9 551.5 h4.8 M53.9 506.9 h4.8 M53.9 462.2 h4.8 M53.9 417.6 h4.8" stroke="#111" stroke-width="1.6" fill="none"/>
<text x="48.2" y="378.1" font-size="16.3" text-anchor="end" fill="#111">0</text>
<text x="48.2" y="422.7" font-size="16.3" text-anchor="end" fill="#111">-5</text>
<text x="48.2" y="467.3" font-size="16.3" text-anchor="end" fill="#111">-10</text>
<text x="48.2" y="512.0" font-size="16.3" text-anchor="end" fill="#111">-15</text>
<text x="48.2" y="556.6" font-size="16.3" text-anchor="end" fill="#111">-20</text>
<text x="48.2" y="601.2" font-size="16.3" text-anchor="end" fill="#111">-25</text>
<text x="48.2" y="645.8" font-size="16.3" text-anchor="end" fill="#111">-30</text>
<text x="54.4" y="659.5" font-size="16.3" text-anchor="middle" fill="#111">0</text>
<text x="153.0" y="659.5" font-size="16.3" text-anchor="middle" fill="#111">50</text>
<text x="251.7" y="659.5" font-size="16.3" text-anchor="middle" fill="#111">100</text>
<text x="350.3" y="659.5" font-size="16.3" text-anchor="middle" fill="#111">150</text>
<text x="448.9" y="659.5" font-size="16.3" text-anchor="middle" fill="#111">200</text>
<text x="297" y="673.5" font-size="17.4" text-anchor="middle" fill="#111">Time (d)</text>
<rect x="250" y="674.2" width="100" height="5.5" fill="#fff"/>
<text transform="translate(15.6 504.5) rotate(-90)" font-size="17.6" text-anchor="middle" fill="#111">Settlement (mm)</text></g>
<text x="274.5" y="692.4" font-size="16.2" text-anchor="middle" fill="#111">(<tspan font-weight="bold">b</tspan>)</text>
<g><rect x="54.8" y="733.9" width="245.5" height="266.4" fill="#eeccea"/>
<rect x="300.305" y="733.9" width="242.0" height="266.4" fill="#eecacd"/>
<path d="M103.9 733.9 V1000.3 M153.0 733.9 V1000.3 M202.1 733.9 V1000.3 M251.2 733.9 V1000.3 M300.3 733.9 V1000.3 M349.4 733.9 V1000.3 M398.5 733.9 V1000.3 M447.6 733.9 V1000.3 M496.7 733.9 V1000.3 M54.8 955.9 H542.3 M54.8 911.5 H542.3 M54.8 867.1 H542.3 M54.8 822.7 H542.3 M54.8 778.3 H542.3" stroke="#6a5a6a" stroke-opacity="0.45" stroke-width="0.8" stroke-dasharray="2.3 2.8" fill="none"/>
<rect x="107.7" y="891.0" width="119.0" height="69.5" fill="#efcfeb"/>
<path d="M109.7 891.0 V960.5 M113.0 891.0 V960.5 M116.3 891.0 V960.5 M119.6 891.0 V960.5 M122.9 891.0 V960.5 M126.2 891.0 V960.5 M129.5 891.0 V960.5 M132.8 891.0 V960.5 M136.1 891.0 V960.5 M139.4 891.0 V960.5 M142.7 891.0 V960.5 M146.0 891.0 V960.5 M149.3 891.0 V960.5 M152.6 891.0 V960.5 M155.9 891.0 V960.5 M159.2 891.0 V960.5 M162.5 891.0 V960.5 M165.8 891.0 V960.5 M169.1 891.0 V960.5 M172.4 891.0 V960.5 M175.7 891.0 V960.5 M179.0 891.0 V960.5 M182.3 891.0 V960.5 M185.6 891.0 V960.5 M188.9 891.0 V960.5 M192.2 891.0 V960.5 M195.5 891.0 V960.5 M198.8 891.0 V960.5 M202.1 891.0 V960.5 M205.4 891.0 V960.5 M208.7 891.0 V960.5 M212.0 891.0 V960.5 M215.3 891.0 V960.5 M218.6 891.0 V960.5 M221.9 891.0 V960.5 M225.2 891.0 V960.5" stroke="#8f7890" stroke-opacity="0.13" stroke-width="0.7" fill="none"/>
<rect x="300.7" y="810.0" width="108.9" height="59.4" fill="#efcdd0"/>
<path d="M302.7 810.0 V869.4 M306.0 810.0 V869.4 M309.3 810.0 V869.4 M312.6 810.0 V869.4 M315.9 810.0 V869.4 M319.2 810.0 V869.4 M322.5 810.0 V869.4 M325.8 810.0 V869.4 M329.1 810.0 V869.4 M332.4 810.0 V869.4 M335.7 810.0 V869.4 M339.0 810.0 V869.4 M342.3 810.0 V869.4 M345.6 810.0 V869.4 M348.9 810.0 V869.4 M352.2 810.0 V869.4 M355.5 810.0 V869.4 M358.8 810.0 V869.4 M362.1 810.0 V869.4 M365.4 810.0 V869.4 M368.7 810.0 V869.4 M372.0 810.0 V869.4 M375.3 810.0 V869.4 M378.6 810.0 V869.4 M381.9 810.0 V869.4 M385.2 810.0 V869.4 M388.5 810.0 V869.4 M391.8 810.0 V869.4 M395.1 810.0 V869.4 M398.4 810.0 V869.4 M401.7 810.0 V869.4 M405.0 810.0 V869.4 M408.3 810.0 V869.4" stroke="#8f7890" stroke-opacity="0.13" stroke-width="0.7" fill="none"/>
<rect x="410.4" y="874.5" width="112.9" height="57.3" fill="#efcdd0"/>
<path d="M412.4 874.5 V931.8 M415.7 874.5 V931.8 M419.0 874.5 V931.8 M422.3 874.5 V931.8 M425.6 874.5 V931.8 M428.9 874.5 V931.8 M432.2 874.5 V931.8 M435.5 874.5 V931.8 M438.8 874.5 V931.8 M442.1 874.5 V931.8 M445.4 874.5 V931.8 M448.7 874.5 V931.8 M452.0 874.5 V931.8 M455.3 874.5 V931.8 M458.6 874.5 V931.8 M461.9 874.5 V931.8 M465.2 874.5 V931.8 M468.5 874.5 V931.8 M471.8 874.5 V931.8 M475.1 874.5 V931.8 M478.4 874.5 V931.8 M481.7 874.5 V931.8 M485.0 874.5 V931.8 M488.3 874.5 V931.8 M491.6 874.5 V931.8 M494.9 874.5 V931.8 M498.2 874.5 V931.8 M501.5 874.5 V931.8 M504.8 874.5 V931.8 M508.1 874.5 V931.8 M511.4 874.5 V931.8 M514.7 874.5 V931.8 M518.0 874.5 V931.8 M521.3 874.5 V931.8" stroke="#8f7890" stroke-opacity="0.13" stroke-width="0.7" fill="none"/>
<clipPath id="clipc"><rect x="54.8" y="733.9" width="487.5" height="266.4"/></clipPath>
<g clip-path="url(#clipc)" fill="none" stroke-linejoin="round">
<path d="M54.2 733.5 L76.8 733.9 L80.1 736.4 L83.5 734.7 L86.8 737.2 L90.1 738.0 L93.5 735.5 L97.7 734.7 L100.2 736.0 L103.5 733.9 L106.9 738.9 L109.4 735.5 L112.7 733.9 L116.1 743.9 L119.4 740.5 L121.9 744.7 L125.3 746.4 L129.5 744.7 L130.0 745.5 L134.4 741.1 L138.7 733.8 L141.6 742.7 L146.0 740.8 L148.9 735.8 L153.3 741.7 L157.6 743.7 L160.5 745.3 L164.9 747.1 L169.3 752.1 L173.6 755.5 L176.5 749.6 L179.5 756.4 L182.4 747.9 L185.3 760.7 L188.2 765.0 L191.1 771.6 L194.0 767.3 L196.9 777.9 L199.8 788.0 L202.7 794.5 L205.6 802.9 L208.5 799.4 L212.9 811.7 L215.8 817.8 L220.2 822.3 L224.5 827.6 L227.5 839.1 L230.4 853.3 L233.3 843.5 L237.6 841.2 L242.0 843.7 L246.4 840.5 L249.3 844.9 L252.2 850.8 L256.5 856.6 L260.9 862.6 L265.3 866.6 L266.2 873.2 L270.5 885.1 L273.5 896.1 L276.4 893.1 L279.3 901.6 L282.2 896.8 L285.1 911.8 L288.0 919.3 L292.4 924.0 L295.3 927.7 L298.2 923.5 L302.5 932.9 L305.5 935.7 L309.8 933.9 L314.2 936.3 L318.0 937.6 L321.5 926.9 L324.1 923.9 L326.7 920.7 L330.2 920.5 L334.5 923.6 L338.9 925.2 L341.8 929.9 L344.7 933.8 L348.2 938.8 L352.0 944.7 L356.4 948.2 L360.7 952.6 L365.1 959.0 L368.0 950.9 L370.9 945.4 L373.8 946.2 L376.7 948.1 L380.0 947.8 L383.3 949.1 L386.5 948.3 L389.8 949.0 L390.0 947.8 L393.1 948.2 L396.1 948.4 L399.2 948.6 L402.2 948.8 L405.3 949.0 L408.4 949.2 L411.4 949.4 L414.5 949.6 L417.6 949.8 L420.6 950.0 L423.7 950.2 L426.7 950.4 L429.8 950.6 L432.9 950.8 L435.9 951.0 L439.0 951.2 L442.1 951.4 L445.1 951.6 L448.2 951.8 L543.6 959.6" stroke="#404040" stroke-width="0.95"/>
<path d="M54.2 733.5 L76.8 734.7 L80.1 738.0 L83.5 738.9 L87.6 739.7 L91.0 741.4 L95.2 739.7 L100.2 738.9 L105.2 740.5 L110.2 739.7 L114.4 742.2 L117.7 746.4 L121.9 748.1 L126.1 749.7 L130.0 749.7 L130.0 749.8 L135.8 745.5 L141.6 743.1 L147.5 742.0 L153.3 744.0 L159.1 745.5 L164.9 748.4 L170.7 753.6 L176.5 755.6 L182.4 757.1 L188.2 765.2 L192.5 771.6 L196.9 778.0 L201.3 787.6 L205.6 799.3 L210.0 804.2 L214.4 813.8 L220.2 823.4 L224.5 829.8 L228.9 840.0 L232.4 848.7 L237.6 850.2 L243.5 849.6 L247.8 849.6 L252.2 852.5 L258.0 858.3 L263.8 865.3 L266.2 874.4 L271.4 886.4 L275.5 896.0 L280.1 901.8 L284.2 911.1 L288.3 919.8 L292.4 925.1 L296.7 929.1 L302.5 937.3 L308.4 941.6 L315.6 945.4 L322.9 946.0 L327.3 943.1 L333.1 935.8 L338.9 932.9 L343.3 935.8 L349.1 943.1 L354.9 951.8 L360.7 959.1 L366.5 964.9 L372.4 963.5 L378.2 960.5 L385.5 958.2 L389.8 957.6 L390.0 958.2 L448.2 961.7 L506.4 966.3 L543.6 970.4" stroke="#f25555" stroke-width="1.3"/>
<path d="M54.2 733.5 L76.8 734.4 L78.8 737.2 L81.4 741.4 L83.8 739.7 L86.5 742.2 L88.8 743.9 L91.5 741.4 L93.2 738.0 L95.5 743.1 L97.5 738.0 L99.8 741.4 L102.2 740.0 L104.9 742.2 L107.2 744.4 L109.9 741.0 L112.9 737.2 L115.6 747.7 L118.2 751.4 L120.6 746.4 L123.3 748.9 L125.6 750.6 L128.3 749.4 L130.3 748.1 L134.4 745.5 L138.7 741.1 L142.2 747.7 L146.3 744.1 L149.8 741.2 L153.9 745.4 L157.9 746.3 L161.4 747.5 L165.5 749.6 L167.8 752.7 L170.1 756.1 L174.2 758.3 L177.1 753.6 L180.0 759.3 L182.9 750.1 L185.9 763.5 L188.8 766.8 L191.7 773.9 L194.6 771.0 L197.5 780.7 L200.4 790.6 L203.3 798.5 L206.2 805.0 L210.0 797.6 L213.8 811.6 L216.7 820.1 L220.8 825.8 L223.1 829.0 L225.4 831.1 L228.3 841.7 L231.2 852.9 L234.1 843.6 L238.2 846.3 L240.5 845.7 L242.9 846.3 L245.8 844.5 L248.7 849.8 L252.8 853.9 L255.1 855.2 L257.4 858.1 L261.5 862.0 L265.3 866.3 L266.2 873.8 L270.5 886.3 L273.5 898.8 L276.4 895.1 L279.3 902.8 L282.2 898.8 L285.1 911.8 L288.0 920.8 L292.4 926.5 L295.3 928.9 L298.2 927.0 L302.5 934.9 L305.5 936.8 L309.8 936.1 L314.2 938.1 L318.0 940.1 L320.9 934.3 L324.4 930.9 L327.3 928.1 L330.8 938.1 L333.1 945.2 L336.0 935.1 L338.9 933.5 L343.3 937.0 L347.6 941.8 L352.0 947.1 L356.4 952.0 L360.7 955.7 L365.1 962.7 L368.0 958.2 L370.9 955.6 L375.3 956.1 L379.6 954.4 L382.5 954.2 L385.5 952.9 L389.8 953.6 L390.0 953.7 L393.1 954.0 L396.1 954.1 L399.2 954.3 L402.2 954.4 L405.3 954.6 L408.4 954.7 L411.4 954.9 L414.5 955.0 L417.6 955.2 L420.6 955.3 L423.7 955.5 L426.7 955.7 L429.8 955.8 L432.9 956.0 L435.9 956.1 L439.0 956.3 L442.1 956.4 L445.1 956.6 L448.2 956.7 L543.6 962.5" stroke="#2b6fe8" stroke-width="1.2"/>
<path d="M54.2 733.5 L76.8 734.4 L77.6 734.7 L80.1 742.2 L82.6 744.7 L86.0 743.9 L89.3 744.7 L92.7 743.9 L96.0 746.4 L98.5 744.7 L100.2 753.1 L102.7 748.1 L105.2 744.7 L108.5 745.6 L111.9 742.2 L114.4 749.7 L116.9 756.4 L119.4 761.5 L121.9 758.9 L124.4 755.6 L126.9 754.8 L130.0 756.4 L130.0 754.2 L135.8 746.9 L140.2 741.7 L144.5 752.1 L147.5 750.0 L150.4 750.7 L153.3 753.1 L156.2 754.3 L159.1 753.8 L162.0 752.5 L164.9 756.2 L167.8 760.5 L172.2 759.1 L176.5 753.7 L180.9 751.4 L185.3 757.4 L189.6 766.0 L192.5 763.7 L196.9 772.9 L201.3 786.2 L205.6 801.5 L210.0 808.6 L214.4 815.6 L217.3 818.5 L220.2 823.3 L224.5 826.4 L228.9 836.8 L231.8 846.7 L236.2 847.4 L240.5 846.4 L243.5 845.5 L246.4 845.0 L249.3 846.9 L252.2 849.0 L255.1 852.6 L258.0 858.3 L260.9 862.0 L263.8 865.1 L266.8 873.6 L269.1 879.2 L271.4 885.0 L274.3 894.1 L276.4 905.8 L280.7 896.9 L283.6 907.5 L286.5 916.1 L290.9 922.5 L295.3 926.5 L299.6 925.8 L302.5 921.3 L304.0 934.0 L308.4 935.0 L312.7 934.5 L315.6 934.0 L318.5 933.8 L320.0 938.0 L323.8 929.7 L327.3 924.2 L330.2 930.2 L333.1 938.1 L337.5 929.2 L341.8 935.2 L346.2 939.0 L350.5 944.1 L354.9 949.8 L357.4 952.6 L359.9 953.4 L362.2 956.1 L364.5 957.5 L368.0 945.3 L369.5 954.3 L372.4 947.7 L376.1 951.5 L378.6 952.5 L381.1 951.5 L384.0 951.2 L386.9 952.4 L389.8 951.6 L390.0 954.8 L393.1 955.4 L396.1 955.6 L399.2 955.7 L402.2 955.9 L405.3 956.0 L408.4 956.2 L411.4 956.3 L414.5 956.5 L417.6 956.7 L420.6 956.8 L423.7 957.0 L426.7 957.1 L429.8 957.3 L432.9 957.4 L435.9 957.6 L439.0 957.7 L442.1 957.9 L445.1 958.0 L448.2 958.2 L543.6 966.3" stroke="#25e2ee" stroke-width="1.45"/>
<path d="M54.2 733.5 L76.8 734.4 L77.6 735.5 L80.9 745.6 L84.3 746.4 L88.5 745.6 L92.7 746.4 L96.0 747.2 L99.3 748.9 L101.9 747.2 L105.2 745.6 L109.4 743.9 L112.7 741.4 L116.1 748.9 L119.4 758.9 L121.9 756.4 L125.3 753.1 L128.6 754.8 L130.3 753.1 L135.8 746.0 L138.7 745.5 L141.6 744.2 L144.5 744.3 L147.5 744.6 L150.4 744.6 L153.3 745.0 L156.2 746.9 L159.1 747.4 L162.0 749.4 L164.9 750.2 L167.8 753.6 L170.7 754.8 L173.6 754.5 L176.5 755.0 L179.5 754.6 L182.4 756.3 L185.3 761.3 L188.2 767.1 L192.5 771.8 L196.9 778.9 L201.3 789.9 L205.6 801.8 L210.0 804.7 L214.4 814.6 L217.3 818.3 L220.2 823.0 L224.5 828.9 L228.9 839.8 L231.8 851.1 L236.2 844.9 L239.1 843.9 L242.0 845.1 L246.4 844.0 L249.3 846.8 L252.2 850.9 L255.1 853.0 L258.0 857.9 L260.9 861.8 L263.8 863.8 L266.2 874.4 L268.8 881.1 L271.4 885.5 L274.9 896.3 L279.3 899.6 L283.6 910.3 L288.0 919.8 L292.4 925.5 L296.7 927.6 L301.1 930.8 L304.0 934.8 L306.9 936.2 L309.8 936.8 L312.7 937.1 L315.3 939.3 L318.0 939.5 L322.0 932.3 L325.8 928.3 L330.2 928.5 L334.5 929.2 L338.9 931.1 L343.3 935.8 L347.6 941.8 L350.3 944.6 L352.9 948.2 L355.3 948.8 L357.8 951.0 L362.2 955.5 L366.5 962.2 L370.3 957.3 L374.4 954.8 L377.0 955.2 L379.6 953.9 L383.0 953.3 L386.4 952.8 L389.8 951.7 L390.0 951.9 L392.9 951.6 L395.8 950.9 L398.7 950.2 L401.6 949.5 L404.5 948.7 L407.5 948.0 L433.6 950.9 L477.3 956.7 L543.6 968.9" stroke="#c085ee" stroke-width="1.15"/>
<path d="M54.2 733.5 L76.8 734.4 L78.4 738.0 L80.9 739.7 L83.5 738.0 L86.0 740.5 L88.5 742.2 L91.0 740.5 L92.7 736.4 L95.2 742.2 L96.8 735.5 L99.3 739.7 L101.9 738.9 L104.4 740.5 L106.9 743.1 L109.4 739.7 L112.7 734.7 L115.2 746.4 L117.7 750.6 L120.3 744.7 L122.8 747.2 L125.3 748.9 L127.8 748.1 L130.3 746.4 L134.4 744.0 L138.7 739.6 L141.6 745.3 L146.0 743.1 L148.9 739.6 L153.3 743.9 L157.6 745.0 L160.5 747.2 L164.9 747.9 L169.3 755.0 L173.6 756.6 L176.5 752.1 L179.5 757.8 L182.4 752.6 L185.3 763.0 L188.2 766.6 L191.1 773.7 L194.0 768.4 L196.9 779.1 L199.8 789.7 L202.7 795.8 L205.6 804.2 L208.5 801.3 L212.9 813.2 L215.8 819.1 L220.2 824.4 L224.5 829.7 L227.5 840.8 L230.4 852.1 L233.3 840.6 L237.6 843.7 L242.0 844.9 L244.9 842.5 L247.8 849.6 L252.2 851.0 L256.5 856.8 L260.9 862.0 L265.3 865.3 L266.2 873.8 L270.5 884.6 L273.5 895.8 L276.4 893.0 L279.3 900.2 L282.2 896.5 L285.1 910.7 L288.0 920.6 L292.4 924.0 L295.3 926.4 L298.2 923.3 L302.5 933.3 L305.5 935.1 L309.8 935.2 L314.2 936.3 L318.0 938.9 L320.9 931.6 L324.4 928.1 L327.3 926.4 L331.6 929.7 L336.0 927.9 L338.9 933.0 L343.3 935.0 L347.6 941.0 L352.0 945.8 L356.4 949.9 L360.7 953.2 L365.1 959.8 L368.0 956.4 L370.9 952.8 L375.3 954.4 L379.6 953.8 L382.5 953.3 L385.5 952.0 L389.8 952.0 L390.0 953.2 L393.1 952.5 L396.1 952.7 L399.2 952.8 L402.2 953.0 L405.3 953.1 L408.4 953.3 L411.4 953.4 L414.5 953.6 L417.6 953.7 L420.6 953.9 L423.7 954.0 L426.7 954.2 L429.8 954.4 L432.9 954.5 L435.9 954.7 L439.0 954.8 L442.1 955.0 L445.1 955.1 L448.2 955.3 L543.6 964.6" stroke="#1212ee" stroke-width="1.5"/>
</g>
<g fill="none" stroke-linejoin="round">
<path d="M116.1 891.5 L122.3 915.6 L127.8 941.0 L134.0 944.1 L140.2 915.6 L146.4 921.8 L154.1 917.2 L161.8 918.7 L168.0 918.1 L175.7 912.5 L181.9 918.7 L189.6 928.6 L197.4 917.2 L203.5 937.3 L209.7 938.8 L217.5 945.0 L225.2 955.8" stroke="#404040" stroke-width="0.90" stroke-opacity="0.9"/>
<path d="M120.1 891.5 L127.8 903.3 L134.0 918.7 L140.2 932.6 L146.4 940.4 L154.1 943.5 L163.4 942.8 L172.6 941.9 L181.9 941.0 L191.2 939.7 L200.5 939.7 L208.2 941.0 L215.9 948.1 L225.2 958.3" stroke="#f25555" stroke-width="1.20" stroke-opacity="0.9"/>
<path d="M118.5 891.5 L126.3 912.5 L132.5 931.1 L138.6 929.5 L144.8 920.3 L149.5 923.4 L155.6 933.6 L161.8 934.8 L169.5 931.7 L176.7 943.5 L183.5 934.2 L190.3 938.8 L197.4 939.7 L205.1 937.3 L211.3 941.9 L219.0 949.6 L225.2 957.4" stroke="#2b6fe8" stroke-width="1.10" stroke-opacity="0.9"/>
<path d="M128.4 891.5 L135.5 906.4 L140.2 928.0 L146.4 941.9 L151.0 929.5 L155.6 912.5 L163.4 928.0 L171.1 929.5 L178.8 931.1 L185.0 929.5 L191.2 920.3 L197.4 935.7 L203.5 933.6 L209.7 929.5 L215.0 941.0 L220.5 952.7 L223.6 960.5" stroke="#25e2ee" stroke-width="1.33" stroke-opacity="0.9"/>
<path d="M107.7 893.4 L115.5 903.3 L121.6 921.8 L127.8 937.3 L135.5 944.1 L141.7 941.9 L146.4 929.5 L152.5 924.9 L160.3 929.5 L169.5 932.6 L178.8 934.2 L188.1 930.5 L195.8 934.2 L203.5 938.8 L211.3 946.5 L219.0 958.9" stroke="#c085ee" stroke-width="1.06" stroke-opacity="0.9"/>
<path d="M116.1 891.5 L122.3 912.5 L127.8 933.6 L134.0 934.8 L141.7 910.1 L149.5 914.1 L155.6 918.1 L163.4 916.3 L169.5 925.5 L175.7 923.4 L182.8 929.5 L190.3 939.7 L197.4 931.7 L205.1 937.9 L211.3 939.7 L219.0 948.1 L225.2 956.4" stroke="#1212ee" stroke-width="1.38" stroke-opacity="0.9"/>
</g>
<g fill="none" stroke-linejoin="round">
<path d="M300.7 840.9 L311.6 848.0 L320.5 843.5 L330.7 838.4 L337.9 856.7 L344.0 828.2 L350.6 833.3 L361.8 812.4 L367.6 820.5 L374.0 818.5 L380.4 823.6 L386.7 816.7 L393.1 827.7 L398.9 825.6 L405.8 838.4 L409.6 836.3" stroke="#404040" stroke-width="0.90" stroke-opacity="0.9"/>
<path d="M300.7 861.3 L311.6 865.1 L321.8 866.4 L332.0 867.6 L342.2 870.2 L351.1 866.4 L360.0 860.0 L368.9 851.1 L377.8 846.5 L386.7 844.0 L395.6 843.5 L403.3 844.7 L409.6 849.1" stroke="#f25555" stroke-width="1.20" stroke-opacity="0.9"/>
<path d="M300.7 844.0 L307.8 856.2 L315.5 863.8 L324.4 864.3 L332.0 862.5 L337.9 866.4 L344.0 853.6 L350.6 839.6 L356.7 828.2 L362.5 824.4 L367.6 844.7 L374.0 869.4 L380.4 856.7 L386.7 847.3 L393.1 843.5 L398.9 839.6 L405.8 844.7 L409.6 848.0" stroke="#2b6fe8" stroke-width="1.10" stroke-opacity="0.9"/>
<path d="M300.7 843.5 L307.8 846.5 L314.2 854.1 L320.5 844.7 L326.9 853.6 L332.0 839.6 L337.9 857.5 L344.0 837.1 L350.6 853.6 L356.7 821.8 L362.5 821.1 L368.4 837.1 L374.0 826.9 L380.4 851.1 L386.7 834.5 L393.1 844.7 L398.9 829.5 L405.8 846.0 L409.6 837.1" stroke="#25e2ee" stroke-width="1.33" stroke-opacity="0.9"/>
<path d="M300.7 844.7 L311.6 853.6 L320.5 854.9 L330.7 852.4 L338.4 853.6 L344.7 840.9 L352.4 837.1 L361.3 828.2 L368.9 832.0 L376.5 830.7 L384.2 833.3 L391.8 835.8 L399.5 837.1 L409.6 843.5" stroke="#c085ee" stroke-width="1.06" stroke-opacity="0.9"/>
<path d="M300.7 842.2 L311.6 848.5 L320.5 844.0 L330.7 839.6 L337.9 858.2 L344.0 832.0 L350.6 835.8 L361.8 822.6 L367.6 830.7 L374.0 829.5 L380.4 836.3 L386.7 829.5 L393.1 838.9 L398.9 834.5 L405.8 844.0 L409.6 842.2" stroke="#1212ee" stroke-width="1.38" stroke-opacity="0.9"/>
</g>
<g fill="none" stroke-linejoin="round">
<path d="M410.9 877.3 L416.9 890.9 L423.2 885.5 L430.0 897.7 L436.8 899.1 L443.6 904.5 L450.5 913.3 L457.3 893.6 L463.3 884.1 L469.5 892.3 L476.9 881.4 L492.7 882.7 L509.1 883.3 L522.7 884.1" stroke="#404040" stroke-width="0.90" stroke-opacity="0.9"/>
<path d="M410.9 885.5 L420.5 897.7 L430.0 905.9 L440.9 914.1 L450.5 920.9 L457.3 926.4 L464.1 926.9 L472.3 924.2 L481.8 918.2 L492.7 913.3 L503.6 910.0 L514.5 908.6 L522.7 908.6" stroke="#f25555" stroke-width="1.20" stroke-opacity="0.9"/>
<path d="M410.9 877.3 L416.9 882.7 L423.2 881.4 L430.0 893.6 L436.8 892.3 L443.6 900.5 L450.5 922.3 L457.3 907.3 L462.7 890.9 L468.2 888.2 L473.1 903.2 L477.7 907.3 L483.2 918.2 L488.6 908.6 L495.5 901.8 L502.3 907.8 L509.1 904.5 L515.9 903.2 L522.7 904.5" stroke="#2b6fe8" stroke-width="1.10" stroke-opacity="0.9"/>
<path d="M410.9 878.6 L417.7 897.7 L424.0 880.0 L430.5 895.0 L436.8 888.2 L443.6 882.7 L450.5 904.5 L457.3 878.6 L464.1 893.6 L470.4 879.5 L476.9 890.9 L483.2 912.7 L490.0 901.8 L496.8 895.0 L503.6 888.2 L510.5 897.7 L517.3 890.9 L522.7 896.4" stroke="#25e2ee" stroke-width="1.33" stroke-opacity="0.9"/>
<path d="M410.9 882.7 L419.1 893.6 L427.3 900.5 L435.5 907.3 L443.6 912.7 L450.5 918.2 L457.3 914.1 L464.1 905.9 L470.9 903.2 L479.1 904.5 L487.3 903.2 L495.5 899.1 L503.6 896.4 L511.8 895.0 L522.7 892.3" stroke="#c085ee" stroke-width="1.06" stroke-opacity="0.9"/>
<path d="M410.9 877.3 L417.7 889.5 L424.0 888.2 L430.5 899.1 L436.8 903.2 L443.6 908.6 L450.5 917.6 L457.3 904.5 L464.1 895.0 L469.5 903.2 L476.4 897.7 L484.5 896.4 L492.7 896.9 L500.9 895.0 L509.1 893.6 L517.3 892.3 L522.7 889.5" stroke="#1212ee" stroke-width="1.38" stroke-opacity="0.9"/>
</g>
<rect x="223.7" y="833.3" width="36.6" height="27.9" fill="none" stroke="#4a4a4a" stroke-opacity="0.75" stroke-width="0.6" stroke-dasharray="1 1.4"/>
<rect x="307.5" y="919.2" width="36.6" height="32.6" fill="none" stroke="#4a4a4a" stroke-opacity="0.75" stroke-width="0.6" stroke-dasharray="1 1.4"/>
<rect x="352.9" y="941.6" width="36.9" height="27.7" fill="none" stroke="#4a4a4a" stroke-opacity="0.75" stroke-width="0.6" stroke-dasharray="1 1.4"/>
<path d="M223.7 847.0 L171.0 886.0" stroke="#222" stroke-width="0.8" fill="none"/>
<path d="M165.5 890.0 L169.6 884.1 L172.3 887.8 Z" fill="#111"/>
<path d="M326.7 919.2 L344.8 876.8" stroke="#222" stroke-width="0.8" fill="none"/>
<path d="M347.5 870.5 L346.9 877.7 L342.7 875.9 Z" fill="#111"/>
<path d="M371.0 941.6 L404.1 905.5" stroke="#222" stroke-width="0.8" fill="none"/>
<path d="M408.7 900.5 L405.8 907.1 L402.4 904.0 Z" fill="#111"/>
<rect x="411.1" y="737.8" width="125.3" height="93.8" fill="#ffb8cd" fill-opacity="0.92"/>
<path d="M411.8 746.4 H440.0" stroke="#404040" stroke-width="0.95" fill="none"/>
<text transform="translate(443.8 750.5) scale(0.95 1)" font-size="13.2" fill="#111">Real data</text>
<path d="M411.8 762.3 H440.0" stroke="#f25555" stroke-width="1.3" fill="none"/>
<text transform="translate(443.8 766.4) scale(0.95 1)" font-size="13.2" fill="#111">GRU</text>
<path d="M411.8 777.8 H440.0" stroke="#2b6fe8" stroke-width="1.2" fill="none"/>
<text transform="translate(443.8 781.9) scale(0.95 1)" font-size="13.2" fill="#111">WPT−GRU</text>
<path d="M411.8 793.5 H440.0" stroke="#25e2ee" stroke-width="1.45" fill="none"/>
<text transform="translate(443.8 797.6) scale(0.95 1)" font-size="13.2" fill="#111">CEEMD−GRU</text>
<path d="M411.8 809.1 H440.0" stroke="#c085ee" stroke-width="1.15" fill="none"/>
<text transform="translate(443.8 813.2) scale(0.95 1)" font-size="13.2" fill="#111">EMD−GRU</text>
<path d="M411.8 824.6 H440.0" stroke="#1212ee" stroke-width="1.5" fill="none"/>
<text transform="translate(443.8 828.7) scale(0.95 1)" font-size="13.2" fill="#111">SSA−VMD−GRU</text>
<text x="258.2" y="769.3" font-size="16.3" fill="#111">Train</text>
<text x="306.8" y="769.3" font-size="16.3" fill="#4b0a7a" style="stroke:#4b0a7a">Test</text>
<rect x="54.8" y="733.9" width="487.5" height="266.4" fill="none" stroke="#111" stroke-width="1.55"/>
<path d="M153.0 1000.3 v-4.8 M251.2 1000.3 v-4.8 M349.4 1000.3 v-4.8 M447.6 1000.3 v-4.8 M54.8 955.9 h4.8 M54.8 911.5 h4.8 M54.8 867.1 h4.8 M54.8 822.7 h4.8 M54.8 778.3 h4.8" stroke="#111" stroke-width="1.6" fill="none"/>
<text x="49.1" y="739.0" font-size="16.3" text-anchor="end" fill="#111">0</text>
<text x="49.1" y="783.4" font-size="16.3" text-anchor="end" fill="#111">-5</text>
<text x="49.1" y="827.8" font-size="16.3" text-anchor="end" fill="#111">-10</text>
<text x="49.1" y="872.2" font-size="16.3" text-anchor="end" fill="#111">-15</text>
<text x="49.1" y="916.6" font-size="16.3" text-anchor="end" fill="#111">-20</text>
<text x="49.1" y="961.0" font-size="16.3" text-anchor="end" fill="#111">-25</text>
<text x="49.1" y="1005.4" font-size="16.3" text-anchor="end" fill="#111">-30</text>
<text x="55.3" y="1019.1" font-size="16.3" text-anchor="middle" fill="#111">0</text>
<text x="153.5" y="1019.1" font-size="16.3" text-anchor="middle" fill="#111">50</text>
<text x="251.7" y="1019.1" font-size="16.3" text-anchor="middle" fill="#111">100</text>
<text x="349.9" y="1019.1" font-size="16.3" text-anchor="middle" fill="#111">150</text>
<text x="448.1" y="1019.1" font-size="16.3" text-anchor="middle" fill="#111">200</text>
<text x="297" y="1033.1" font-size="17.4" text-anchor="middle" fill="#111">Time (d)</text>
<text transform="translate(16.5 864.7) rotate(-90)" font-size="17.6" text-anchor="middle" fill="#111">Settlement (mm)</text></g>
<text x="274.5" y="1079.6" font-size="16.2" text-anchor="middle" fill="#111">(<tspan font-weight="bold">c</tspan>)</text>
</svg>
</body></html>
